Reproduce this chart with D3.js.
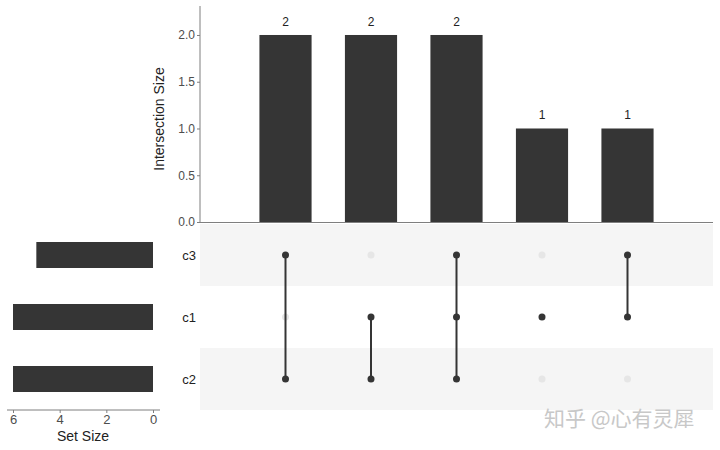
<!DOCTYPE html>
<html><head><meta charset="utf-8">
<script src="https://cdnjs.cloudflare.com/ajax/libs/d3/7.8.5/d3.min.js"></script>
<style>body{margin:0;background:#fff}svg{font-family:"Liberation Sans",Arial,sans-serif}</style>
</head><body><svg id="c" width="720" height="450"></svg>
<script>
const sets = ["c3","c1","c2"];
const setSizes = [5,6,6];
const intersections = [["c3","c2"],["c1","c2"],["c3","c1","c2"],["c1"],["c3","c1"]];
const intersectionSizes = [2,2,2,1,1];
const yTicks = [0,0.5,1.0,1.5,2.0];
const setTicks = [6,4,2,0];

const svg = d3.select("#c");
const dark = "#353535", axisCol = "#7f7f7f", txt = "#4d4d4d";

// matrix stripes first
const ry = d3.scalePoint().domain(sets).range([255,379]);
const rowH = ry.step();
svg.selectAll(".stripe").data(sets).join("rect")
  .attr("x",200).attr("width",513).attr("y",d=>ry(d)-rowH/2).attr("height",rowH)
  .attr("fill",(d,i)=>i%2===0?"#f5f5f5":"#ffffff");

// top bars
const x = d3.scaleLinear().domain([0, intersections.length+1]).range([200, 713]);
const y = d3.scaleLinear().domain([0, 2.31]).range([222, 6]);
const bw = (x(1)-x(0))*0.61;
svg.selectAll(".ib").data(intersectionSizes).join("rect")
  .attr("x",(d,i)=>x(i+1)-bw/2).attr("y",d=>y(d)).attr("width",bw).attr("height",d=>y(0)-y(d)).attr("fill",dark);
svg.selectAll(".il").data(intersectionSizes).join("text")
  .attr("x",(d,i)=>x(i+1)).attr("y",d=>y(d)-9).attr("text-anchor","middle").attr("font-size",12).attr("fill","#222").text(d=>d);
const ya = svg.append("g").attr("transform","translate(200,0)").call(d3.axisLeft(y).tickValues(yTicks).tickFormat(d3.format(".1f")).tickSize(3).tickPadding(2));
ya.select(".domain").attr("stroke",axisCol).attr("d","M0,6V222");
ya.selectAll(".tick line").attr("stroke",axisCol);
ya.selectAll(".tick text").attr("fill",txt).attr("font-size",12).attr("font-family","Liberation Sans, Arial, sans-serif");
svg.append("line").attr("x1",200).attr("x2",713).attr("y1",222.5).attr("y2",222.5).attr("stroke",axisCol);
svg.append("text").attr("transform","translate(164,119) rotate(-90)").attr("text-anchor","middle").attr("font-size",14).attr("fill","#222").text("Intersection Size");

// matrix dots
intersections.forEach((combo,i)=>{
  const cx = x(i+1);
  sets.forEach(s=>{ if(!combo.includes(s)) svg.append("circle").attr("cx",cx).attr("cy",ry(s)).attr("r",3.5).attr("fill","#e6e6e6"); });
  const ys = combo.map(s=>ry(s));
  if(ys.length>1) svg.append("line").attr("x1",cx).attr("x2",cx).attr("y1",d3.min(ys)).attr("y2",d3.max(ys)).attr("stroke",dark).attr("stroke-width",2);
  combo.forEach(s=>svg.append("circle").attr("cx",cx).attr("cy",ry(s)).attr("r",3.5).attr("fill",dark));
});
svg.selectAll(".sl").data(sets).join("text").attr("x",189).attr("y",d=>ry(d)+4.5).attr("text-anchor","middle").attr("font-size",13).attr("fill","#222").text(d=>d);

// set size bars
const sx = d3.scaleLinear().domain([0,6]).range([153,13]);
svg.selectAll(".sb").data(setSizes).join("rect")
  .attr("x",d=>sx(d)).attr("width",d=>sx(0)-sx(d)).attr("y",(d,i)=>ry(sets[i])-13).attr("height",26).attr("fill",dark);
const sa = svg.append("g").attr("transform","translate(0,410)").call(d3.axisBottom(sx).tickValues(setTicks).tickFormat(d3.format("d")).tickSize(3).tickPadding(2));
sa.select(".domain").attr("stroke",axisCol).attr("d","M7,0H160");
sa.selectAll(".tick line").attr("stroke",axisCol);
sa.selectAll(".tick text").attr("fill",txt).attr("font-size",13).attr("font-family","Liberation Sans, Arial, sans-serif");
svg.append("text").attr("x",83).attr("y",441).attr("text-anchor","middle").attr("font-size",14).attr("fill","#222").text("Set Size");

// watermark
svg.append("text").attr("x",544).attr("y",426).attr("font-size",21).attr("fill","#c8c8c8")
  .attr("font-family","Noto Sans CJK SC, sans-serif").text("知乎 @心有灵犀");
</script></body></html>
